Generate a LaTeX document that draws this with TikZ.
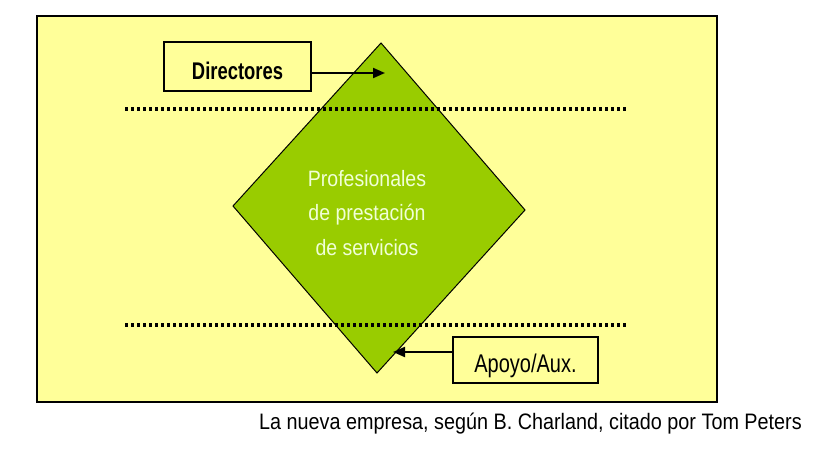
\documentclass[tikz,border=0pt]{standalone}
\usepackage{fontspec}
\usepackage{graphicx}
\setmainfont{Liberation Sans}
\usetikzlibrary{arrows.meta}
\definecolor{bgyellow}{RGB}{255,255,153}
\definecolor{dgreen}{RGB}{153,204,0}
\definecolor{paletext}{RGB}{240,255,215}
\tikzset{
  boxstyle/.style={draw=black, line width=2pt, fill=bgyellow, inner ysep=0pt, inner xsep=0pt, text=black},
  dotline/.style={line width=3.2pt, dash pattern=on 3.2pt off 2.8pt},
  arrowstyle/.style={line width=2pt, -{Triangle[length=12pt,width=10pt]}},
  diamondstyle/.style={draw=black, line width=1pt, fill=dgreen}
}
\begin{document}
\begin{tikzpicture}[x=1pt,y=-1pt]
\useasboundingbox (0,0) rectangle (819,460);
% outer frame
\draw[line width=1.6pt, fill=bgyellow] (37,16) rectangle (717,402);
% diamond
\coordinate (dt) at (381,43);
\coordinate (dr) at (525,210);
\coordinate (db) at (377,373);
\coordinate (dl) at (233,206);
\draw[diamondstyle] (dt) -- (dr) -- (db) -- (dl) -- cycle;
\node[anchor=base, inner sep=0pt, text=paletext] (prof) at (367,186)
  {\scalebox{1}[1.14]{\fontsize{19.5}{30.3}\selectfont\begin{tabular}[t]{@{}c@{}}Profesionales\\de prestación\\de servicios\end{tabular}}};
% dotted lines
\draw[dotline] (125,109) -- (628,109);
\draw[dotline] (125,325) -- (628,325);
% boxes
\node[boxstyle, anchor=base, text height=37pt, text depth=12pt, minimum width=147pt] (dir) at (237.5,79)
  {\scalebox{1}[1.31]{\fontsize{18.4}{22}\selectfont\bfseries Directores}};
\node[boxstyle, anchor=base, text height=35pt, text depth=11pt, minimum width=145pt] (apo) at (525.5,372)
  {\scalebox{1}[1.28]{\fontsize{20}{24}\selectfont Apoyo/Aux.}};
% arrows
\coordinate (dirtip) at (385,73);
\coordinate (apotip) at (393,352);
\draw[arrowstyle] (dir.east |- dirtip) -- (dirtip);
\draw[arrowstyle] (apo.west |- apotip) -- (apotip);
% caption
\node[anchor=base east, inner sep=0pt] (cap) at (802,429)
  {\scalebox{1}[1.13]{\fontsize{19.8}{24}\selectfont La nueva empresa, según B. Charland, citado por Tom Peters}};
\end{tikzpicture}
\end{document}
